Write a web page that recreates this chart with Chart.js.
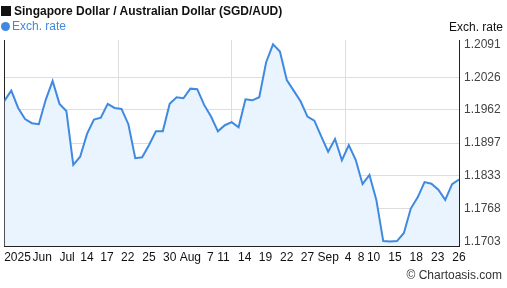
<!DOCTYPE html>
<html>
<head>
<meta charset="utf-8">
<script src="https://cdn.jsdelivr.net/npm/chart.js@4"></script>
<style>
body { margin: 0; background: #fff; font-family: "Liberation Sans", Arial, sans-serif; }
#wrap { position: relative; width: 507px; height: 288px; overflow: hidden; }
#rateChart { position: absolute; left: 0; top: 0; }
.txt { position: absolute; font-size: 12px; line-height: 14px; white-space: nowrap; }
</style>
</head>
<body>
<div id="wrap">
  <canvas id="rateChart" width="507" height="288"></canvas>
  <div class="txt" style="left:1px; top:4px; font-weight:bold; color:#111;"><span style="display:inline-block; width:10px; height:10px; background:#111; margin-right:3px; vertical-align:-1px;"></span>Singapore Dollar / Australian Dollar (SGD/AUD)</div>
  <div class="txt" style="left:1px; top:19px; color:#3f8ae0;"><span style="display:inline-block; width:9px; height:9px; border-radius:50%; background:#3f8ae0; margin-right:2px; vertical-align:-1px;"></span>Exch. rate</div>
  <div class="txt" style="right:4px; top:20px; color:#111;">Exch. rate</div>
  <div class="txt" style="right:5px; top:268px; color:#333;">© Chartoasis.com</div>
</div>
<script>
// Daily SGD/AUD closing rates, one per business day (late Jun to 26 Sep 2025)
const rates = [
  1.1980, 1.2000, 1.1966, 1.1944, 1.1936, 1.1934, 1.1982, 1.2019, 1.1974, 1.1960,
  1.1854, 1.1870, 1.1915, 1.1943, 1.1947, 1.1974, 1.1966, 1.1964, 1.1934, 1.1867,
  1.1869, 1.1893, 1.1920, 1.1920, 1.1974, 1.1987, 1.1985, 1.2004, 1.2003, 1.1972,
  1.1949, 1.1920, 1.1932, 1.1938, 1.1928, 1.1983, 1.1981, 1.1987, 1.2056, 1.2091,
  1.2077, 1.2021, 1.2000, 1.1979, 1.1949, 1.1941, 1.1910, 1.1880, 1.1905, 1.1863,
  1.1893, 1.1864, 1.1816, 1.1834, 1.1785, 1.1704, 1.1703, 1.1704, 1.1720, 1.1768,
  1.1790, 1.1820, 1.1817, 1.1805, 1.1785, 1.1816, 1.1825
];

// Date labels along the bottom and where they sit (in business-day index)
const xTickLabels = ['2025', 'Jun', 'Jul', '14', '17', '22', '25', '30', 'Aug', '7', '11', '14',
                     '19', '22', '27', 'Sep', '4', '8', '10', '15', '18', '23', '26'];
const xTickPos = [1.9, 5.5, 9.1, 12, 14.9, 17.9, 21, 24, 27, 29.9, 31.8, 34.9,
                  37.9, 41, 44, 47, 49.9, 51.8, 53.6, 56.7, 59.8, 62.9, 66];

// Right axis labels
const yTicks = [1.1703, 1.1768, 1.1833, 1.1897, 1.1962, 1.2026, 1.2091];

const lastIdx = rates.length - 1;
// a little room above the max and below the min
const yPad = 0.00087;

var rateChart = new Chart(document.getElementById('rateChart'), {
  type: 'line',
  data: {
    datasets: [{
      label: 'Exch. rate',
      data: rates.map((v, i) => ({ x: i, y: v })),
      borderColor: '#3f8ae0',
      borderWidth: 2,
      backgroundColor: '#eaf4fe',
      fill: 'start',
      pointRadius: 0,
      tension: 0,
    }],
  },
  options: {
    responsive: false,
    devicePixelRatio: 1,
    animation: false,
    layout: { padding: { top: 40, left: 0, right: 0, bottom: 0 } },
    plugins: {
      legend: { display: false },
      tooltip: { enabled: false },
    },
    scales: {
      x: {
        type: 'linear',
        position: 'bottom',
        min: 0,
        max: lastIdx,
        afterBuildTicks: s => { s.ticks = xTickPos.map(v => ({ value: v })); },
        afterFit: s => { s.height = 42; },
        ticks: {
          autoSkip: false,
          maxRotation: 0,
          padding: 4,
          color: '#111',
          font: { family: '"Liberation Sans", Arial, sans-serif', size: 12 },
          callback: (v, i) => xTickLabels[i],
        },
        grid: { display: false, drawTicks: false },
        border: { display: true, color: '#222', width: 1 },
      },
      // only used for the vertical grid lines at each quarter
      xGrid: {
        type: 'linear',
        position: 'top',
        min: 0,
        max: lastIdx,
        afterBuildTicks: s => { s.ticks = [1, 2, 3].map(q => ({ value: lastIdx * q / 4 })); },
        afterFit: s => { s.height = 0; },
        ticks: { display: false },
        grid: { color: '#dddddd', drawTicks: false },
        border: { display: false },
      },
      yLeft: {
        position: 'left',
        min: yTicks[0] - yPad,
        max: yTicks[yTicks.length - 1] + yPad,
        afterFit: s => { s.width = 1; },
        ticks: { display: false },
        grid: { display: false, drawTicks: false },
        border: { display: true, color: '#222', width: 1 },
      },
      y: {
        position: 'right',
        min: yTicks[0] - yPad,
        max: yTicks[yTicks.length - 1] + yPad,
        afterBuildTicks: s => { s.ticks = yTicks.map(v => ({ value: v })); },
        afterFit: s => { s.width = 48; },
        ticks: {
          padding: 5,
          color: '#444',
          font: { family: '"Liberation Sans", Arial, sans-serif', size: 12 },
          callback: (v, i) => yTicks[i].toFixed(4),
        },
        grid: {
          drawTicks: false,
          color: ctx => (ctx.index == 0 || ctx.index == yTicks.length - 1) ? 'rgba(0,0,0,0)' : '#dddddd',
        },
        border: { display: true, color: '#222', width: 1 },
      },
    },
  },
});
</script>
</body>
</html>
